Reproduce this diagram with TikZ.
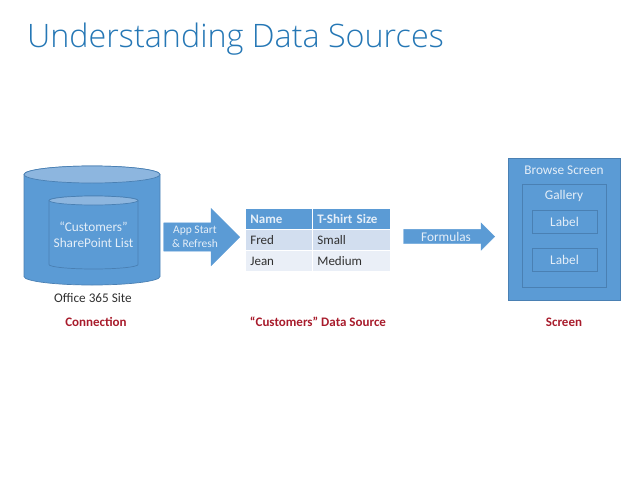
\documentclass[tikz,border=0pt]{standalone}
\usepackage{fontspec}
\setmainfont{Carlito}
\newfontfamily\titlefont[UprightFont=* Light]{Open Sans}
\usetikzlibrary{shapes.arrows}
\definecolor{boxblue}{HTML}{5B9BD5}
\definecolor{topblue}{HTML}{8DB6DF}
\definecolor{edgeblue}{HTML}{4A80B3}
\definecolor{titleblue}{HTML}{2577B5}
\definecolor{softwhite}{HTML}{E4EEF8}
\definecolor{captionred}{HTML}{A81C2C}
\definecolor{rowone}{HTML}{D2DEEF}
\definecolor{rowtwo}{HTML}{EAEFF7}
\definecolor{darktext}{HTML}{303030}
\begin{document}
\begin{tikzpicture}[
                        x=1pt, y=-1pt,
                        drumbody/.style={draw=edgeblue, line width=0.7pt, fill=boxblue},
                        drumtop/.style={draw=edgeblue, line width=0.7pt, fill=topblue},
                        panel/.style={rectangle, draw=edgeblue, line width=0.7pt, fill=boxblue, inner sep=0pt},
                        blockarrow/.style={single arrow, draw=boxblue, fill=boxblue, inner xsep=0pt, anchor=tip},
                        onblue/.style={text=softwhite, font=\fontsize{13.3}{16}\selectfont, align=center},
                        caption/.style={text=captionred, font=\fontsize{13}{15}\selectfont\bfseries},
                        cell/.style={rectangle, draw=white, line width=0.8pt, inner sep=0pt, inner xsep=5pt, text width=#1, minimum height=21pt, align=left, text=darktext, font=\fontsize{13}{15}\selectfont},
                        headcell/.style={cell=#1, fill=boxblue, text=softwhite, font=\fontsize{13}{15}\selectfont\bfseries}
                    ]
                    \useasboundingbox (0,0) rectangle (638,485);
                    \node [anchor=base west, inner sep=0pt, text=titleblue, font=\fontsize{32.3}{38}\selectfont\titlefont] (title) at (27,47) {Understanding Data Sources};

                    % Cylinders
                    \draw [drumbody] (24,174.5) -- (24,276.5) arc [start angle=180, end angle=360, x radius=68pt, y radius=8.5pt] -- (160,174.5) arc [start angle=0, end angle=180, x radius=68pt, y radius=8.5pt] -- cycle;
                    \draw [drumtop] (92,174.5) ellipse [x radius=68pt, y radius=8.5pt];
                    \draw [drumbody] (49,200.5) -- (49,264.5) arc [start angle=180, end angle=360, x radius=44.5pt, y radius=4.5pt] -- (138,200.5) arc [start angle=0, end angle=180, x radius=44.5pt, y radius=4.5pt] -- cycle;
                    \draw [drumtop] (93.5,200.5) ellipse [x radius=44.5pt, y radius=4.5pt];

                    % Blocks
                    \node [onblue] (listtext) at (93.5,235) {“Customers”\\SharePoint List};
                    \node [text=darktext, font=\fontsize{13.2}{15}\selectfont] (sitetext) at (93,298) {Office 365 Site};
                    \node [caption] (connection) at (96,322) {Connection};

                    \node [blockarrow, minimum height=76pt, inner ysep=14pt, single arrow head extend=14.5pt] (startarrow) at (240,237) {};
                    \node [onblue, font=\fontsize{11.5}{14}\selectfont] (starttext) at (195,237) {App Start\\\& Refresh};

                    % Table
                    \node [headcell=57pt, anchor=north west] (namehead) at (245,208) {Name};
                    \node [headcell=68pt, anchor=north west] (sizehead) at (312,208) {T-Shirt Size};
                    \node [cell=57pt, fill=rowone, anchor=north west] (fredname) at (245,229) {Fred};
                    \node [cell=68pt, fill=rowone, anchor=north west] (fredsize) at (312,229) {Small};
                    \node [cell=57pt, fill=rowtwo, anchor=north west] (jeanname) at (245,250) {Jean};
                    \node [cell=68pt, fill=rowtwo, anchor=north west] (jeansize) at (312,250) {Medium};
                    \node [caption] (source) at (318,322) {“Customers” Data Source};

                    \node [blockarrow, minimum height=91pt, inner ysep=7pt, single arrow head extend=6.5pt] (formulaarrow) at (495,236.5) {};
                    \node [onblue] (formulatext) at (446,237) {Formulas};

                    % Screen
                    \node [panel, minimum width=112pt, minimum height=142pt] (browse) at (564,229) {};
                    \node [panel, minimum width=84pt, minimum height=103pt] (gallery) at (564,235.5) {};
                    \node [panel, minimum width=65pt, minimum height=23pt, onblue] (labelone) at (564.5,221.5) {Label};
                    \node [panel, minimum width=65pt, minimum height=23pt, onblue] (labeltwo) at (564.5,259.5) {Label};
                    \node [onblue] (browsetext) at (564,170) {Browse Screen};
                    \node [onblue] (gallerytext) at (564,196) {Gallery};
                    \node [caption] (screen) at (564,322) {Screen};
                \end{tikzpicture}
\end{document}
